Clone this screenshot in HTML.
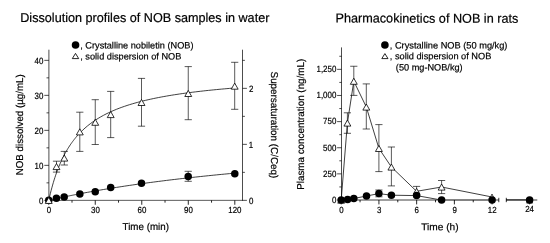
<!DOCTYPE html>
<html><head><meta charset="utf-8"><title>NOB charts</title>
<style>
html,body{margin:0;padding:0;background:#fff;}
svg{display:block;}
text{font-family:'Liberation Sans',Arial,Helvetica,sans-serif;fill:#000;}
</style></head>
<body>
<svg width="550" height="243" viewBox="0 0 550 243">
<rect width="550" height="243" fill="#fff"/>
<line x1="48.90" y1="49.70" x2="48.90" y2="200.65" stroke="#000" stroke-width="0.7"/>
<line x1="48.55" y1="200.35" x2="242.85" y2="200.35" stroke="#000" stroke-width="0.65"/>
<line x1="242.50" y1="49.70" x2="242.50" y2="200.65" stroke="#000" stroke-width="0.7"/>
<line x1="44.30" y1="200.35" x2="48.90" y2="200.35" stroke="#000" stroke-width="0.7"/>
<line x1="46.50" y1="182.85" x2="48.90" y2="182.85" stroke="#000" stroke-width="0.7"/>
<line x1="44.30" y1="165.35" x2="48.90" y2="165.35" stroke="#000" stroke-width="0.7"/>
<line x1="46.50" y1="147.85" x2="48.90" y2="147.85" stroke="#000" stroke-width="0.7"/>
<line x1="44.30" y1="130.35" x2="48.90" y2="130.35" stroke="#000" stroke-width="0.7"/>
<line x1="46.50" y1="112.85" x2="48.90" y2="112.85" stroke="#000" stroke-width="0.7"/>
<line x1="44.30" y1="95.35" x2="48.90" y2="95.35" stroke="#000" stroke-width="0.7"/>
<line x1="46.50" y1="77.85" x2="48.90" y2="77.85" stroke="#000" stroke-width="0.7"/>
<line x1="44.30" y1="60.35" x2="48.90" y2="60.35" stroke="#000" stroke-width="0.7"/>
<text transform="rotate(0.03 39.21 203.57)" x="38.90" y="203.57" font-size="9.1" textLength="4.40" lengthAdjust="spacingAndGlyphs" stroke="#000" stroke-width="0.2">0</text>
<text transform="rotate(0.03 35.10 168.57)" x="34.50" y="168.57" font-size="9.1" textLength="8.81" lengthAdjust="spacingAndGlyphs" stroke="#000" stroke-width="0.2">10</text>
<text transform="rotate(0.03 34.89 133.57)" x="34.50" y="133.57" font-size="9.1" textLength="8.81" lengthAdjust="spacingAndGlyphs" stroke="#000" stroke-width="0.2">20</text>
<text transform="rotate(0.03 34.80 98.57)" x="34.50" y="98.57" font-size="9.1" textLength="8.81" lengthAdjust="spacingAndGlyphs" stroke="#000" stroke-width="0.2">30</text>
<text transform="rotate(0.03 34.67 63.57)" x="34.50" y="63.57" font-size="9.1" textLength="8.81" lengthAdjust="spacingAndGlyphs" stroke="#000" stroke-width="0.2">40</text>
<line x1="242.50" y1="200.35" x2="246.90" y2="200.35" stroke="#000" stroke-width="0.7"/>
<line x1="242.50" y1="172.35" x2="244.90" y2="172.35" stroke="#000" stroke-width="0.7"/>
<line x1="242.50" y1="144.35" x2="246.90" y2="144.35" stroke="#000" stroke-width="0.7"/>
<line x1="242.50" y1="116.35" x2="244.90" y2="116.35" stroke="#000" stroke-width="0.7"/>
<line x1="242.50" y1="88.35" x2="246.90" y2="88.35" stroke="#000" stroke-width="0.7"/>
<line x1="242.50" y1="60.35" x2="244.90" y2="60.35" stroke="#000" stroke-width="0.7"/>
<text transform="rotate(0.03 249.40 203.57)" x="249.09" y="203.57" font-size="9.1" textLength="4.40" lengthAdjust="spacingAndGlyphs" stroke="#000" stroke-width="0.2">0</text>
<text transform="rotate(0.03 249.40 147.57)" x="248.80" y="147.57" font-size="9.1" textLength="4.40" lengthAdjust="spacingAndGlyphs" stroke="#000" stroke-width="0.2">1</text>
<text transform="rotate(0.03 249.40 91.57)" x="249.00" y="91.57" font-size="9.1" textLength="4.40" lengthAdjust="spacingAndGlyphs" stroke="#000" stroke-width="0.2">2</text>
<line x1="48.75" y1="200.35" x2="48.75" y2="204.75" stroke="#000" stroke-width="0.85"/>
<line x1="72.01" y1="200.35" x2="72.01" y2="202.65" stroke="#000" stroke-width="0.85"/>
<line x1="95.26" y1="200.35" x2="95.26" y2="204.75" stroke="#000" stroke-width="0.85"/>
<line x1="118.52" y1="200.35" x2="118.52" y2="202.65" stroke="#000" stroke-width="0.85"/>
<line x1="141.78" y1="200.35" x2="141.78" y2="204.75" stroke="#000" stroke-width="0.85"/>
<line x1="165.03" y1="200.35" x2="165.03" y2="202.65" stroke="#000" stroke-width="0.85"/>
<line x1="188.29" y1="200.35" x2="188.29" y2="204.75" stroke="#000" stroke-width="0.85"/>
<line x1="211.54" y1="200.35" x2="211.54" y2="202.65" stroke="#000" stroke-width="0.85"/>
<line x1="234.80" y1="200.35" x2="234.80" y2="204.75" stroke="#000" stroke-width="0.85"/>
<text transform="rotate(0.03 47.05 213.40)" x="46.74" y="213.40" font-size="8.8" textLength="4.40" lengthAdjust="spacingAndGlyphs" stroke="#000" stroke-width="0.2">0</text>
<text transform="rotate(0.03 91.36 213.40)" x="91.06" y="213.40" font-size="8.8" textLength="8.81" lengthAdjust="spacingAndGlyphs" stroke="#000" stroke-width="0.2">30</text>
<text transform="rotate(0.03 137.92 213.40)" x="137.52" y="213.40" font-size="8.8" textLength="8.81" lengthAdjust="spacingAndGlyphs" stroke="#000" stroke-width="0.2">60</text>
<text transform="rotate(0.03 184.42 213.40)" x="184.05" y="213.40" font-size="8.8" textLength="8.81" lengthAdjust="spacingAndGlyphs" stroke="#000" stroke-width="0.2">90</text>
<text transform="rotate(0.03 228.85 213.40)" x="228.24" y="213.40" font-size="8.8" textLength="13.21" lengthAdjust="spacingAndGlyphs" stroke="#000" stroke-width="0.2">120</text>
<line x1="56.50" y1="161.20" x2="56.50" y2="172.10" stroke="#000" stroke-width="0.65"/>
<line x1="52.90" y1="161.20" x2="60.10" y2="161.20" stroke="#000" stroke-width="0.65"/>
<line x1="52.90" y1="172.10" x2="60.10" y2="172.10" stroke="#000" stroke-width="0.65"/>
<line x1="64.30" y1="151.40" x2="64.30" y2="165.00" stroke="#000" stroke-width="0.65"/>
<line x1="60.70" y1="151.40" x2="67.90" y2="151.40" stroke="#000" stroke-width="0.65"/>
<line x1="60.70" y1="165.00" x2="67.90" y2="165.00" stroke="#000" stroke-width="0.65"/>
<line x1="79.80" y1="112.20" x2="79.80" y2="151.40" stroke="#000" stroke-width="0.65"/>
<line x1="76.20" y1="112.20" x2="83.40" y2="112.20" stroke="#000" stroke-width="0.65"/>
<line x1="76.20" y1="151.40" x2="83.40" y2="151.40" stroke="#000" stroke-width="0.65"/>
<line x1="95.25" y1="99.70" x2="95.25" y2="144.50" stroke="#000" stroke-width="0.65"/>
<line x1="91.65" y1="99.70" x2="98.85" y2="99.70" stroke="#000" stroke-width="0.65"/>
<line x1="91.65" y1="144.50" x2="98.85" y2="144.50" stroke="#000" stroke-width="0.65"/>
<line x1="110.70" y1="91.40" x2="110.70" y2="137.60" stroke="#000" stroke-width="0.65"/>
<line x1="107.10" y1="91.40" x2="114.30" y2="91.40" stroke="#000" stroke-width="0.65"/>
<line x1="107.10" y1="137.60" x2="114.30" y2="137.60" stroke="#000" stroke-width="0.65"/>
<line x1="141.50" y1="78.40" x2="141.50" y2="126.20" stroke="#000" stroke-width="0.65"/>
<line x1="137.90" y1="78.40" x2="145.10" y2="78.40" stroke="#000" stroke-width="0.65"/>
<line x1="137.90" y1="126.20" x2="145.10" y2="126.20" stroke="#000" stroke-width="0.65"/>
<line x1="188.25" y1="66.60" x2="188.25" y2="119.70" stroke="#000" stroke-width="0.65"/>
<line x1="184.65" y1="66.60" x2="191.85" y2="66.60" stroke="#000" stroke-width="0.65"/>
<line x1="184.65" y1="119.70" x2="191.85" y2="119.70" stroke="#000" stroke-width="0.65"/>
<line x1="234.70" y1="62.30" x2="234.70" y2="109.30" stroke="#000" stroke-width="0.65"/>
<line x1="231.10" y1="62.30" x2="238.30" y2="62.30" stroke="#000" stroke-width="0.65"/>
<line x1="231.10" y1="109.30" x2="238.30" y2="109.30" stroke="#000" stroke-width="0.65"/>
<line x1="188.20" y1="171.30" x2="188.20" y2="181.30" stroke="#000" stroke-width="0.65"/>
<line x1="184.60" y1="171.30" x2="191.80" y2="171.30" stroke="#000" stroke-width="0.65"/>
<line x1="184.60" y1="181.30" x2="191.80" y2="181.30" stroke="#000" stroke-width="0.65"/>
<path d="M48.75 200.35L49.52 196.98L50.29 193.77L51.06 190.73L51.83 187.83L52.60 185.07L53.37 182.44L54.13 179.92L54.90 177.52L55.67 175.22L56.44 173.01L57.21 170.90L57.98 168.87L58.75 166.92L59.52 165.05L60.29 163.25L61.06 161.52L61.83 159.85L62.60 158.24L63.37 156.68L64.13 155.19L64.90 153.74L65.67 152.34L66.44 150.99L67.21 149.68L67.98 148.41L68.75 147.19L69.52 146.00L70.29 144.85L71.06 143.73L71.83 142.64L72.60 141.59L73.37 140.57L74.13 139.57L74.90 138.61L75.67 137.67L76.44 136.76L77.21 135.87L77.98 135.00L78.75 134.16L79.75 133.10L82.38 130.46L85.01 128.05L87.63 125.81L90.26 123.75L92.89 121.83L95.52 120.05L98.15 118.39L100.77 116.83L103.40 115.38L106.03 114.01L108.66 112.72L111.29 111.51L113.91 110.36L116.54 109.28L119.17 108.25L121.80 107.28L124.43 106.36L127.05 105.48L129.68 104.64L132.31 103.85L134.94 103.09L137.57 102.36L140.19 101.66L142.82 101.00L145.45 100.36L148.08 99.75L150.71 99.16L153.33 98.60L155.96 98.06L158.59 97.54L161.22 97.03L163.84 96.55L166.47 96.08L169.10 95.63L171.73 95.20L174.36 94.78L176.98 94.38L179.61 93.98L182.24 93.60L184.87 93.24L187.50 92.88L190.12 92.54L192.75 92.20L195.38 91.88L198.01 91.56L200.64 91.26L203.26 90.96L205.89 90.67L208.52 90.39L211.15 90.12L213.78 89.85L216.40 89.60L219.03 89.34L221.66 89.10L224.29 88.86L226.92 88.63L229.54 88.40L232.17 88.18L234.80 87.96" fill="none" stroke="#000" stroke-width="0.75" stroke-linejoin="round"/>
<path d="M48.75 200.35L49.52 200.17L50.29 199.99L51.06 199.82L51.83 199.64L52.60 199.47L53.37 199.29L54.13 199.12L54.90 198.95L55.67 198.78L56.44 198.61L57.21 198.44L57.98 198.27L58.75 198.10L59.52 197.93L60.29 197.76L61.06 197.60L61.83 197.43L62.60 197.27L63.37 197.10L64.13 196.94L64.90 196.78L65.67 196.62L66.44 196.46L67.21 196.30L67.98 196.14L68.75 195.98L69.52 195.82L70.29 195.67L71.06 195.51L71.83 195.35L72.60 195.20L73.37 195.04L74.13 194.89L74.90 194.74L75.67 194.59L76.44 194.43L77.21 194.28L77.98 194.13L78.75 193.98L79.75 193.79L82.38 193.29L85.01 192.79L87.63 192.31L90.26 191.83L92.89 191.35L95.52 190.89L98.15 190.43L100.77 189.97L103.40 189.53L106.03 189.08L108.66 188.65L111.29 188.22L113.91 187.80L116.54 187.38L119.17 186.97L121.80 186.57L124.43 186.17L127.05 185.77L129.68 185.38L132.31 185.00L134.94 184.62L137.57 184.24L140.19 183.87L142.82 183.51L145.45 183.15L148.08 182.79L150.71 182.44L153.33 182.10L155.96 181.75L158.59 181.41L161.22 181.08L163.84 180.75L166.47 180.42L169.10 180.10L171.73 179.78L174.36 179.47L176.98 179.16L179.61 178.85L182.24 178.55L184.87 178.25L187.50 177.95L190.12 177.66L192.75 177.37L195.38 177.08L198.01 176.80L200.64 176.52L203.26 176.24L205.89 175.97L208.52 175.70L211.15 175.43L213.78 175.17L216.40 174.90L219.03 174.64L221.66 174.39L224.29 174.13L226.92 173.88L229.54 173.63L232.17 173.39L234.80 173.15" fill="none" stroke="#000" stroke-width="0.75" stroke-linejoin="round"/>
<circle cx="48.75" cy="200.35" r="3.75" fill="#000"/>
<circle cx="56.40" cy="198.35" r="3.75" fill="#000"/>
<circle cx="64.20" cy="197.00" r="3.75" fill="#000"/>
<circle cx="79.85" cy="194.10" r="3.75" fill="#000"/>
<circle cx="95.25" cy="191.70" r="3.75" fill="#000"/>
<circle cx="110.70" cy="187.60" r="3.75" fill="#000"/>
<circle cx="141.50" cy="183.30" r="3.75" fill="#000"/>
<circle cx="188.20" cy="176.60" r="3.75" fill="#000"/>
<circle cx="234.80" cy="173.80" r="3.75" fill="#000"/>
<path d="M48.75 197.35L52.20 203.45L45.30 203.45Z" fill="#fff" stroke="#000" stroke-width="0.8" stroke-linejoin="miter"/>
<path d="M56.50 163.50L59.95 169.60L53.05 169.60Z" fill="#fff" stroke="#000" stroke-width="0.8" stroke-linejoin="miter"/>
<path d="M64.30 155.00L67.75 161.10L60.85 161.10Z" fill="#fff" stroke="#000" stroke-width="0.8" stroke-linejoin="miter"/>
<path d="M79.80 128.80L83.25 134.90L76.35 134.90Z" fill="#fff" stroke="#000" stroke-width="0.8" stroke-linejoin="miter"/>
<path d="M95.25 119.20L98.70 125.30L91.80 125.30Z" fill="#fff" stroke="#000" stroke-width="0.8" stroke-linejoin="miter"/>
<path d="M110.70 111.50L114.15 117.60L107.25 117.60Z" fill="#fff" stroke="#000" stroke-width="0.8" stroke-linejoin="miter"/>
<path d="M141.50 99.40L144.95 105.50L138.05 105.50Z" fill="#fff" stroke="#000" stroke-width="0.8" stroke-linejoin="miter"/>
<path d="M188.25 90.40L191.70 96.50L184.80 96.50Z" fill="#fff" stroke="#000" stroke-width="0.8" stroke-linejoin="miter"/>
<path d="M234.70 83.10L238.15 89.20L231.25 89.20Z" fill="#fff" stroke="#000" stroke-width="0.8" stroke-linejoin="miter"/>
<circle cx="75.55" cy="45.05" r="3.8" fill="#000"/>
<path d="M75.50 53.40L78.70 58.60L72.30 58.60Z" fill="#fff" stroke="#000" stroke-width="0.85" stroke-linejoin="miter"/>
<text transform="rotate(0.03 81.10 48.50)" x="80.28" y="48.50" font-size="9.3" textLength="113.19" lengthAdjust="spacingAndGlyphs" stroke="#000" stroke-width="0.2">, Crystalline nobiletin (NOB)</text>
<text transform="rotate(0.03 81.10 59.50)" x="80.28" y="59.50" font-size="9.3" textLength="101.09" lengthAdjust="spacingAndGlyphs" stroke="#000" stroke-width="0.2">, solid dispersion of NOB</text>
<text transform="rotate(0.03 21.30 22.00)" x="20.26" y="22.00" font-size="12.9" textLength="249.14" lengthAdjust="spacingAndGlyphs" stroke="#000" stroke-width="0.2">Dissolution profiles of NOB samples in water</text>
<text transform="rotate(0.03 122.80 229.90)" x="122.59" y="229.90" font-size="10.0" textLength="46.32" lengthAdjust="spacingAndGlyphs" stroke="#000" stroke-width="0.2">Time (min)</text>
<text transform="translate(22.90 174.50) rotate(-89.97)" x="-0.80" y="0" font-size="10.0" textLength="101.11" lengthAdjust="spacingAndGlyphs" stroke="#000" stroke-width="0.2">NOB dissolved (µg/mL)</text>
<text transform="translate(271.10 72.00) rotate(90.03)" x="-0.44" y="0" font-size="10.0" textLength="106.66" lengthAdjust="spacingAndGlyphs" stroke="#000" stroke-width="0.2">Supersaturation (C/Ceq)</text>
<line x1="341.50" y1="47.40" x2="341.50" y2="200.35" stroke="#000" stroke-width="0.7"/>
<line x1="341.15" y1="200.00" x2="499.00" y2="200.00" stroke="#000" stroke-width="0.75"/>
<line x1="498.80" y1="197.80" x2="498.80" y2="202.20" stroke="#000" stroke-width="0.8"/>
<line x1="506.00" y1="200.00" x2="537.30" y2="200.00" stroke="#000" stroke-width="0.75"/>
<line x1="506.30" y1="197.80" x2="506.30" y2="202.20" stroke="#000" stroke-width="0.8"/>
<line x1="337.10" y1="200.00" x2="341.50" y2="200.00" stroke="#000" stroke-width="0.7"/>
<line x1="339.30" y1="186.94" x2="341.50" y2="186.94" stroke="#000" stroke-width="0.7"/>
<line x1="337.10" y1="173.87" x2="341.50" y2="173.87" stroke="#000" stroke-width="0.7"/>
<line x1="339.30" y1="160.81" x2="341.50" y2="160.81" stroke="#000" stroke-width="0.7"/>
<line x1="337.10" y1="147.74" x2="341.50" y2="147.74" stroke="#000" stroke-width="0.7"/>
<line x1="339.30" y1="134.68" x2="341.50" y2="134.68" stroke="#000" stroke-width="0.7"/>
<line x1="337.10" y1="121.61" x2="341.50" y2="121.61" stroke="#000" stroke-width="0.7"/>
<line x1="339.30" y1="108.55" x2="341.50" y2="108.55" stroke="#000" stroke-width="0.7"/>
<line x1="337.10" y1="95.48" x2="341.50" y2="95.48" stroke="#000" stroke-width="0.7"/>
<line x1="339.30" y1="82.42" x2="341.50" y2="82.42" stroke="#000" stroke-width="0.7"/>
<line x1="337.10" y1="69.35" x2="341.50" y2="69.35" stroke="#000" stroke-width="0.7"/>
<line x1="339.30" y1="56.28" x2="341.50" y2="56.28" stroke="#000" stroke-width="0.7"/>
<text transform="rotate(0.03 332.21 202.82)" x="331.90" y="202.82" font-size="9.1" textLength="4.40" lengthAdjust="spacingAndGlyphs" stroke="#000" stroke-width="0.2">0</text>
<text transform="rotate(0.03 323.49 176.69)" x="323.10" y="176.69" font-size="9.1" textLength="13.21" lengthAdjust="spacingAndGlyphs" stroke="#000" stroke-width="0.2">250</text>
<text transform="rotate(0.03 323.41 150.56)" x="323.10" y="150.56" font-size="9.1" textLength="13.21" lengthAdjust="spacingAndGlyphs" stroke="#000" stroke-width="0.2">500</text>
<text transform="rotate(0.03 323.50 124.43)" x="323.10" y="124.43" font-size="9.1" textLength="13.21" lengthAdjust="spacingAndGlyphs" stroke="#000" stroke-width="0.2">750</text>
<text transform="rotate(0.03 317.09 98.30)" x="316.49" y="98.30" font-size="9.1" textLength="19.81" lengthAdjust="spacingAndGlyphs" stroke="#000" stroke-width="0.2">1,000</text>
<text transform="rotate(0.03 317.09 72.17)" x="316.49" y="72.17" font-size="9.1" textLength="19.81" lengthAdjust="spacingAndGlyphs" stroke="#000" stroke-width="0.2">1,250</text>
<line x1="341.20" y1="200.00" x2="341.20" y2="204.40" stroke="#000" stroke-width="0.85"/>
<line x1="360.06" y1="200.00" x2="360.06" y2="202.30" stroke="#000" stroke-width="0.85"/>
<line x1="378.93" y1="200.00" x2="378.93" y2="204.40" stroke="#000" stroke-width="0.85"/>
<line x1="397.79" y1="200.00" x2="397.79" y2="202.30" stroke="#000" stroke-width="0.85"/>
<line x1="416.65" y1="200.00" x2="416.65" y2="204.40" stroke="#000" stroke-width="0.85"/>
<line x1="435.51" y1="200.00" x2="435.51" y2="202.30" stroke="#000" stroke-width="0.85"/>
<line x1="454.38" y1="200.00" x2="454.38" y2="204.40" stroke="#000" stroke-width="0.85"/>
<line x1="473.24" y1="200.00" x2="473.24" y2="202.30" stroke="#000" stroke-width="0.85"/>
<line x1="492.10" y1="200.00" x2="492.10" y2="204.40" stroke="#000" stroke-width="0.85"/>
<line x1="529.60" y1="200.00" x2="529.60" y2="204.40" stroke="#000" stroke-width="0.7"/>
<text transform="rotate(0.03 339.50 213.40)" x="339.19" y="213.40" font-size="8.8" textLength="4.40" lengthAdjust="spacingAndGlyphs" stroke="#000" stroke-width="0.2">0</text>
<text transform="rotate(0.03 377.24 213.40)" x="376.94" y="213.40" font-size="8.8" textLength="4.40" lengthAdjust="spacingAndGlyphs" stroke="#000" stroke-width="0.2">3</text>
<text transform="rotate(0.03 415.02 213.40)" x="414.62" y="213.40" font-size="8.8" textLength="4.40" lengthAdjust="spacingAndGlyphs" stroke="#000" stroke-width="0.2">6</text>
<text transform="rotate(0.03 452.74 213.40)" x="452.38" y="213.40" font-size="8.8" textLength="4.40" lengthAdjust="spacingAndGlyphs" stroke="#000" stroke-width="0.2">9</text>
<text transform="rotate(0.03 488.40 213.40)" x="487.79" y="213.40" font-size="8.8" textLength="8.81" lengthAdjust="spacingAndGlyphs" stroke="#000" stroke-width="0.2">12</text>
<text transform="rotate(0.03 525.61 212.40)" x="525.21" y="212.40" font-size="8.8" textLength="8.81" lengthAdjust="spacingAndGlyphs" stroke="#000" stroke-width="0.2">24</text>
<line x1="347.40" y1="112.80" x2="347.40" y2="133.30" stroke="#000" stroke-width="0.65"/>
<line x1="343.80" y1="112.80" x2="351.00" y2="112.80" stroke="#000" stroke-width="0.65"/>
<line x1="343.80" y1="133.30" x2="351.00" y2="133.30" stroke="#000" stroke-width="0.65"/>
<line x1="353.80" y1="66.25" x2="353.80" y2="95.40" stroke="#000" stroke-width="0.65"/>
<line x1="350.20" y1="66.25" x2="357.40" y2="66.25" stroke="#000" stroke-width="0.65"/>
<line x1="350.20" y1="95.40" x2="357.40" y2="95.40" stroke="#000" stroke-width="0.65"/>
<line x1="366.30" y1="83.90" x2="366.30" y2="129.00" stroke="#000" stroke-width="0.65"/>
<line x1="362.70" y1="83.90" x2="369.90" y2="83.90" stroke="#000" stroke-width="0.65"/>
<line x1="362.70" y1="129.00" x2="369.90" y2="129.00" stroke="#000" stroke-width="0.65"/>
<line x1="378.90" y1="124.60" x2="378.90" y2="171.60" stroke="#000" stroke-width="0.65"/>
<line x1="375.30" y1="124.60" x2="382.50" y2="124.60" stroke="#000" stroke-width="0.65"/>
<line x1="375.30" y1="171.60" x2="382.50" y2="171.60" stroke="#000" stroke-width="0.65"/>
<line x1="391.40" y1="147.00" x2="391.40" y2="185.90" stroke="#000" stroke-width="0.65"/>
<line x1="387.80" y1="147.00" x2="395.00" y2="147.00" stroke="#000" stroke-width="0.65"/>
<line x1="387.80" y1="185.90" x2="395.00" y2="185.90" stroke="#000" stroke-width="0.65"/>
<line x1="416.60" y1="186.40" x2="416.60" y2="196.20" stroke="#000" stroke-width="0.65"/>
<line x1="413.00" y1="186.40" x2="420.20" y2="186.40" stroke="#000" stroke-width="0.65"/>
<line x1="413.00" y1="196.20" x2="420.20" y2="196.20" stroke="#000" stroke-width="0.65"/>
<line x1="441.60" y1="180.50" x2="441.60" y2="193.60" stroke="#000" stroke-width="0.65"/>
<line x1="438.00" y1="180.50" x2="445.20" y2="180.50" stroke="#000" stroke-width="0.65"/>
<line x1="438.00" y1="193.60" x2="445.20" y2="193.60" stroke="#000" stroke-width="0.65"/>
<line x1="378.90" y1="190.00" x2="378.90" y2="196.80" stroke="#000" stroke-width="0.65"/>
<line x1="375.30" y1="190.00" x2="382.50" y2="190.00" stroke="#000" stroke-width="0.65"/>
<line x1="375.30" y1="196.80" x2="382.50" y2="196.80" stroke="#000" stroke-width="0.65"/>
<path d="M341.20 200.10L347.40 123.00L353.80 81.20L366.30 107.00L378.90 148.40L391.40 167.00L416.60 191.30L441.60 187.00L492.10 197.00" fill="none" stroke="#000" stroke-width="0.75" stroke-linejoin="round"/>
<path d="M341.20 200.10L347.60 199.50L353.80 198.50L366.50 196.00L378.90 193.60L391.40 195.20L416.60 195.60L441.60 200.10" fill="none" stroke="#000" stroke-width="0.75" stroke-linejoin="round"/>
<line x1="441.60" y1="200.00" x2="492.10" y2="200.00" stroke="#000" stroke-width="0.35"/>
<line x1="506.00" y1="199.90" x2="529.60" y2="199.90" stroke="#000" stroke-width="0.85"/>
<path d="M341.20 197.10L344.65 203.20L337.75 203.20Z" fill="#fff" stroke="#000" stroke-width="0.8" stroke-linejoin="miter"/>
<path d="M347.40 120.00L350.85 126.10L343.95 126.10Z" fill="#fff" stroke="#000" stroke-width="0.8" stroke-linejoin="miter"/>
<path d="M353.80 78.20L357.25 84.30L350.35 84.30Z" fill="#fff" stroke="#000" stroke-width="0.8" stroke-linejoin="miter"/>
<path d="M366.30 104.00L369.75 110.10L362.85 110.10Z" fill="#fff" stroke="#000" stroke-width="0.8" stroke-linejoin="miter"/>
<path d="M378.90 145.40L382.35 151.50L375.45 151.50Z" fill="#fff" stroke="#000" stroke-width="0.8" stroke-linejoin="miter"/>
<path d="M391.40 164.00L394.85 170.10L387.95 170.10Z" fill="#fff" stroke="#000" stroke-width="0.8" stroke-linejoin="miter"/>
<path d="M416.60 188.30L420.05 194.40L413.15 194.40Z" fill="#fff" stroke="#000" stroke-width="0.8" stroke-linejoin="miter"/>
<path d="M441.60 184.00L445.05 190.10L438.15 190.10Z" fill="#fff" stroke="#000" stroke-width="0.8" stroke-linejoin="miter"/>
<path d="M492.00 194.00L494.60 199.60L489.40 199.60Z" fill="#fff" stroke="#000" stroke-width="0.7" stroke-linejoin="miter"/>
<path d="M529.60 197.20L532.60 203.10L526.60 203.10Z" fill="#fff" stroke="#000" stroke-width="0.7" stroke-linejoin="miter"/>
<circle cx="341.20" cy="200.10" r="3.75" fill="#000"/>
<circle cx="347.60" cy="199.50" r="3.75" fill="#000"/>
<circle cx="353.80" cy="198.50" r="3.75" fill="#000"/>
<circle cx="366.50" cy="196.00" r="3.75" fill="#000"/>
<circle cx="378.90" cy="193.60" r="3.75" fill="#000"/>
<circle cx="391.40" cy="195.20" r="3.75" fill="#000"/>
<circle cx="416.60" cy="195.60" r="3.75" fill="#000"/>
<circle cx="441.60" cy="200.10" r="3.75" fill="#000"/>
<circle cx="492.10" cy="200.10" r="3.75" fill="#000"/>
<circle cx="529.60" cy="200.10" r="3.75" fill="#000"/>
<circle cx="384.90" cy="45.05" r="3.8" fill="#000"/>
<path d="M384.90 53.60L388.00 58.60L381.80 58.60Z" fill="#fff" stroke="#000" stroke-width="0.85" stroke-linejoin="miter"/>
<text transform="rotate(0.03 390.60 48.50)" x="389.78" y="48.50" font-size="9.3" textLength="117.69" lengthAdjust="spacingAndGlyphs" stroke="#000" stroke-width="0.2">, Crystalline NOB (50 mg/kg)</text>
<text transform="rotate(0.03 390.60 59.30)" x="389.78" y="59.30" font-size="9.3" textLength="101.60" lengthAdjust="spacingAndGlyphs" stroke="#000" stroke-width="0.2">, solid dispersion of NOB</text>
<text transform="rotate(0.03 396.40 70.40)" x="395.83" y="70.40" font-size="9.3" textLength="66.84" lengthAdjust="spacingAndGlyphs" stroke="#000" stroke-width="0.2">(50 mg-NOB/kg)</text>
<text transform="rotate(0.03 336.50 22.60)" x="335.46" y="22.60" font-size="12.9" textLength="182.89" lengthAdjust="spacingAndGlyphs" stroke="#000" stroke-width="0.2">Pharmacokinetics of NOB in rats</text>
<text transform="rotate(0.03 421.40 230.20)" x="421.18" y="230.20" font-size="10.0" textLength="37.35" lengthAdjust="spacingAndGlyphs" stroke="#000" stroke-width="0.2">Time (h)</text>
<text transform="translate(304.00 189.00) rotate(-89.97)" x="-0.81" y="0" font-size="10.0" textLength="131.02" lengthAdjust="spacingAndGlyphs" stroke="#000" stroke-width="0.2">Plasma concentration (ng/mL)</text>
</svg>
</body></html>
